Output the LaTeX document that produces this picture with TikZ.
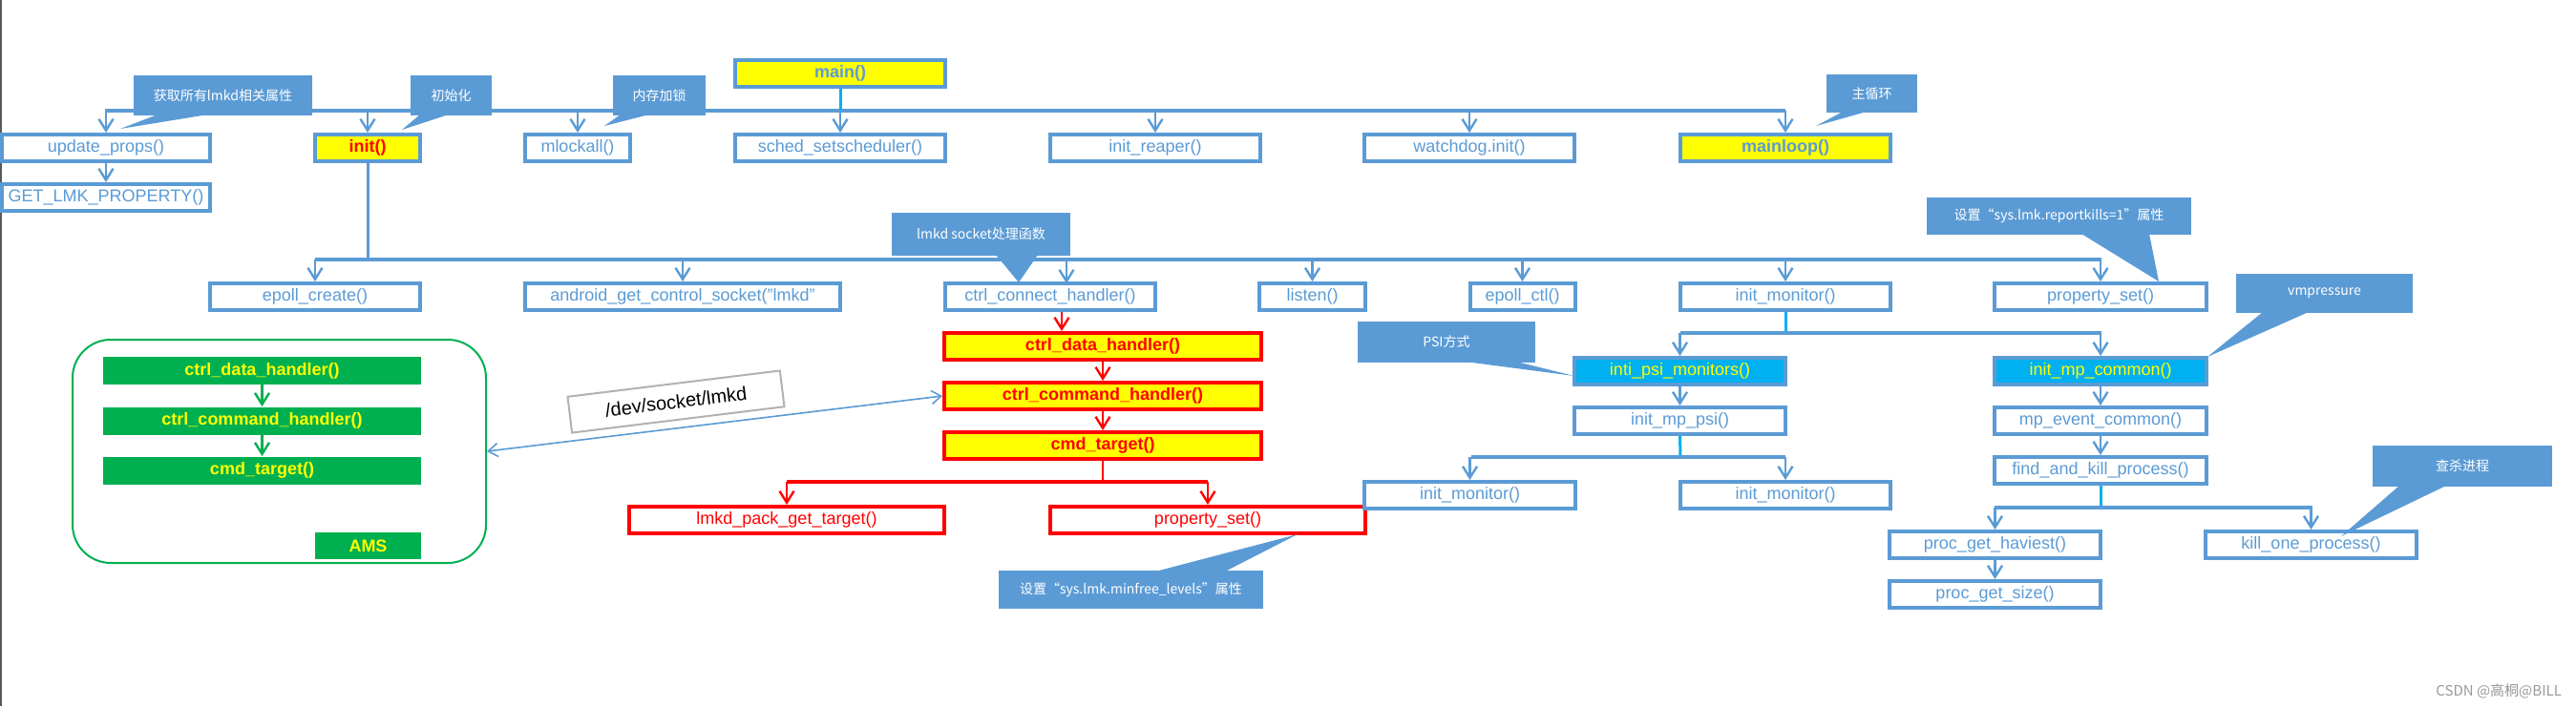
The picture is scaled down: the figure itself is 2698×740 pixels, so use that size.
\documentclass[tikz,border=0pt]{standalone}
\usepackage{fontspec}
\setmainfont{Liberation Sans}
\newfontfamily\cjk{Noto Sans CJK SC}
\usetikzlibrary{arrows.meta}
\definecolor{bl}{HTML}{5B9BD5}
\definecolor{cy}{HTML}{00B0F0}
\definecolor{gr}{HTML}{00B050}
\definecolor{yl}{HTML}{FFFF00}
\definecolor{rd}{HTML}{FF0000}
\begin{document}
\begin{tikzpicture}[x=0.5pt,y=-0.5pt,
  box/.style={draw=bl,line width=2pt,fill=white,text=bl,inner sep=0pt,minimum height=14pt,font=\fontsize{9}{10}\selectfont},
  ybox/.style={box,fill=yl,font=\fontsize{9}{10}\selectfont\bfseries},
  cbox/.style={box,fill=cy,text=yl},
  rbox/.style={draw=rd,line width=2pt,fill=yl,text=rd,inner sep=0pt,minimum height=14pt,font=\fontsize{9}{10}\selectfont\bfseries},
  rwbox/.style={rbox,fill=white,font=\fontsize{9}{10}\selectfont},
  gbox/.style={fill=gr,text=yl,inner sep=0pt,minimum height=14.5pt,font=\fontsize{9}{10}\selectfont\bfseries},
  callout/.style={fill=bl,text=white,inner sep=0pt,font=\cjk\fontsize{7}{8}\selectfont},
  bus/.style={draw=bl,line width=2pt},
  arr/.style={draw=bl,line width=1.2pt,-{Straight Barb[length=6pt,width=7.5pt]}},
  rarr/.style={draw=rd,line width=1.2pt,-{Straight Barb[length=6pt,width=7.5pt]}},
  garr/.style={draw=gr,line width=1.2pt,-{Straight Barb[length=6pt,width=7.5pt]}}]
\useasboundingbox (0,0) rectangle (2698,740);
\fill[white] (0,0) rectangle (2698,740);
\draw[gray!70!black,line width=1pt] (1,0) -- (1,740);

% top row
\node[ybox,minimum width=110pt] (main) at (880,77) {main()};
\node[box,minimum width=109pt] (upd) at (111,155) {update\_props()};
\node[box,minimum width=109pt] (get) at (111,207) {GET\_LMK\_PROPERTY()};
\node[ybox,text=rd,minimum width=55pt] (init) at (385,155) {init()};
\node[box,minimum width=55pt] (mlock) at (605,155) {mlockall()};
\node[box,minimum width=110pt] (sched) at (880,155) {sched\_setscheduler()};
\node[box,minimum width=110pt] (reaper) at (1210,155) {init\_reaper()};
\node[box,minimum width=110pt] (wd) at (1539,155) {watchdog.init()};
\node[ybox,minimum width=110pt] (loop) at (1870,155) {mainloop()};
\coordinate (b1) at (880,116);
\draw[bus] (110,116) -- (1870,116);
\draw[draw=cy,line width=1.5pt] (main.south) -- (b1);
\foreach \n in {upd,init,mlock,sched,reaper,wd,loop} \draw[arr] (\n.north |- b1) -- (\n.north);
\draw[arr] (upd.south) -- (get.north);

% second row
\coordinate (b2) at (385,272);
\draw[draw=bl,line width=1.5pt] (init.south) -- (b2);
\draw[bus] (330,272) -- (2201,272);
\node[box,minimum width=110pt] (epc) at (330,311) {epoll\_create()};
\node[box,minimum width=165pt] (agc) at (715,311) {android\_get\_control\_socket("lmkd"};
\node[box,minimum width=110pt] (conn) at (1100,311) {ctrl\_connect\_handler()};
\node[box,minimum width=55.5pt] (listen) at (1374.5,311) {listen()};
\node[box,minimum width=55pt] (ectl) at (1594.5,311) {epoll\_ctl()};
\node[box,minimum width=110pt] (mon) at (1870,311) {init\_monitor()};
\node[box,minimum width=111pt] (pset) at (2200,311) {property\_set()};
\draw[arr] (330,272) -- (epc.north);
\foreach \n in {agc,listen,ectl,mon,pset} \draw[arr] (\n.north |- b2) -- (\n.north);
\draw[arr] (1117,272) -- (1117,297);

% red chain
\node[rbox,minimum width=166pt] (rdata) at (1155,363) {ctrl\_data\_handler()};
\node[rbox,minimum width=166pt] (rcmd) at (1155,415) {ctrl\_command\_handler()};
\node[rbox,minimum width=166pt] (rtgt) at (1155,467) {cmd\_target()};
\node[rwbox,minimum width=165pt] (pack) at (824,545) {lmkd\_pack\_get\_target()};
\node[rwbox,minimum width=165pt] (rpset) at (1265,545) {property\_set()};
\draw[rarr] (conn.south -| 1112,0) -- (rdata.north -| 1112,0);
\draw[rarr] (rdata) -- (rcmd);
\draw[rarr] (rcmd) -- (rtgt);
\coordinate (rb) at (1155,505);
\draw[draw=rd,line width=1.2pt] (rtgt.south) -- (rb);
\draw[draw=rd,line width=2pt] (824,505) -- (1265,505);
\draw[rarr] (pack.north |- rb) -- (pack.north);
\draw[rarr] (rpset.north |- rb) -- (rpset.north);

% green AMS
\node[draw=gr,line width=1pt,rounded corners=20pt,minimum width=216.5pt,minimum height=117pt,inner sep=0pt] (frame) at (292.5,473) {};
\node[gbox,minimum width=166.5pt] (gdata) at (274.5,388.5) {ctrl\_data\_handler()};
\node[gbox,minimum width=166.5pt] (gcmd) at (274.5,441) {ctrl\_command\_handler()};
\node[gbox,minimum width=166.5pt] (gtgt) at (274.5,493) {cmd\_target()};
\node[gbox,minimum width=55.5pt,minimum height=14pt] (ams) at (385.5,572) {AMS};
\draw[garr] (gdata) -- (gcmd);
\draw[garr] (gcmd) -- (gtgt);
\draw[draw=bl,line width=0.8pt,{Straight Barb[length=5pt,width=7pt]}-{Straight Barb[length=5pt,width=7pt]}] (rcmd.west) -- (frame.east);
\node[draw=gray!60,line width=1pt,fill=white,rotate=7,minimum width=112pt,minimum height=19pt,inner sep=0pt,font=\fontsize{10}{11}\selectfont] (sock) at (708,421) {/dev/socket/lmkd};

% psi / vmpressure
\coordinate (b3) at (1870,349);
\draw[draw=cy,line width=1.5pt] (mon.south) -- (b3);
\draw[bus] (1760,349) -- (2201,349);
\node[cbox,minimum width=110.5pt] (psi) at (1759.5,389) {inti\_psi\_monitors()};
\node[cbox,minimum width=111pt] (mpc) at (2200,389) {init\_mp\_common()};
\draw[arr] (psi.north |- b3) -- (psi.north);
\draw[arr] (mpc.north |- b3) -- (mpc.north);
\node[box,minimum width=110.5pt] (mppsi) at (1759.5,441) {init\_mp\_psi()};
\node[box,minimum width=111pt] (mpev) at (2200,441) {mp\_event\_common()};
\node[box,minimum width=111pt] (fkp) at (2200,493) {find\_and\_kill\_process()};
\draw[arr] (psi) -- (mppsi);
\draw[arr] (mpc) -- (mpev);
\draw[arr] (mpev) -- (fkp);
\coordinate (b4) at (1760,479);
\draw[draw=cy,line width=1.5pt] (mppsi.south) -- (b4);
\draw[bus] (1541,479) -- (1870,479);
\node[box,minimum width=110.5pt] (mon2) at (1539.5,519) {init\_monitor()};
\node[box,minimum width=110pt] (mon3) at (1870,519) {init\_monitor()};
\draw[arr] (mon2.north |- b4) -- (mon2.north);
\draw[arr] (mon3.north |- b4) -- (mon3.north);
\coordinate (b5) at (2200,532);
\draw[draw=cy,line width=1.5pt] (fkp.south) -- (b5);
\draw[bus] (2089,532) -- (2422,532);
\node[box,minimum width=110.5pt] (hav) at (2089.5,571) {proc\_get\_haviest()};
\node[box,minimum width=110.5pt] (size) at (2089.5,623) {proc\_get\_size()};
\node[box,minimum width=110.5pt] (kill) at (2420.5,571) {kill\_one\_process()};
\draw[arr] (hav.north |- b5) -- (hav.north);
\draw[arr] (kill.north |- b5) -- (kill.north);
\draw[arr] (hav) -- (size);

% callouts
\node[callout,minimum width=93.5pt,minimum height=21pt] (c1) at (233.5,100) {获取所有lmkd相关属性};
\fill[bl] (165,120) -- (218,120) -- (126,135) -- cycle;
\node[callout,minimum width=42.5pt,minimum height=21pt] (c2) at (472.5,100) {初始化};
\fill[bl] (440,120) -- (470,120) -- (421,136) -- cycle;
\node[callout,minimum width=48.5pt,minimum height=21pt] (c3) at (690.5,100) {内存加锁};
\fill[bl] (650,120) -- (680,120) -- (633,132) -- cycle;
\node[callout,minimum width=47.5pt,minimum height=20pt] (c4) at (1960.5,98) {主循环};
\fill[bl] (1930,117) -- (1955,117) -- (1902,132) -- cycle;
\node[callout,minimum width=93.5pt,minimum height=22.5pt] (c5) at (1027.5,245.5) {lmkd socket处理函数};
\fill[bl] (1043,267) -- (1087,267) -- (1067,296) -- cycle;
\node[callout,minimum width=138.5pt,minimum height=19.5pt] (c6) at (2156.5,226.5) {设置“sys.lmk.reportkills=1”属性};
\fill[bl] (2180,245) -- (2251,245) -- (2261,295) -- cycle;
\node[callout,minimum width=92.5pt,minimum height=20.5pt] (c7) at (2434.5,307.5) {vmpressure};
\fill[bl] (2370,327) -- (2418,327) -- (2312,374) -- cycle;
\node[callout,minimum width=93pt,minimum height=21.5pt] (c8) at (1515,358.5) {PSI方式};
\fill[bl] (1534,379) -- (1588,379) -- (1649,394) -- cycle;
\node[callout,minimum width=94pt,minimum height=21.5pt] (c9) at (2579,488.5) {查杀进程};
\fill[bl] (2513,509) -- (2562,509) -- (2452,562) -- cycle;
\node[callout,minimum width=138.5pt,minimum height=20pt] (c10) at (1184.5,618) {设置“sys.lmk.minfree\_levels”属性};
\fill[bl] (1210,599) -- (1283,599) -- (1359,560) -- cycle;

\node[text=gray!80,font=\cjk\fontsize{7.5}{8}\selectfont,anchor=east] (wm) at (2690,724) {CSDN @高桐@BILL};
\end{tikzpicture}
\end{document}
